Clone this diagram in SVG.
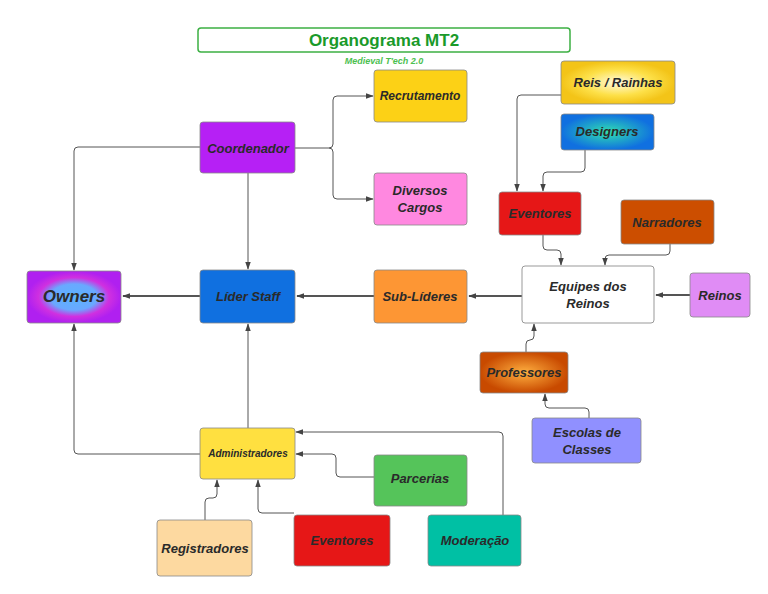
<svg xmlns="http://www.w3.org/2000/svg" width="768" height="594" viewBox="0 0 768 594">
<defs>
<style>
.n{stroke:#888;stroke-width:0.8}
.t{font-family:"Liberation Sans",Arial,sans-serif;font-weight:bold;font-style:italic;font-size:13px;fill:#2a2a2a;text-anchor:middle;dominant-baseline:central}
.c{fill:none;stroke:#555;stroke-width:1}
.m{fill:none;stroke:#555;stroke-width:2}
</style>
<marker id="a" viewBox="0 0 10 10" refX="9" refY="5" markerUnits="userSpaceOnUse" markerWidth="8" markerHeight="8" orient="auto"><path d="M0,1.5 L10,5 L0,8.5 z" fill="#444"/></marker>
<radialGradient id="gOw"><stop offset="0" stop-color="#5ab4ff"/><stop offset="0.5" stop-color="#6aa8ff"/><stop offset="0.75" stop-color="#d030e0"/><stop offset="1" stop-color="#b020f0"/></radialGradient>
<radialGradient id="gRe"><stop offset="0" stop-color="#fffbe0"/><stop offset="0.6" stop-color="#fde048"/><stop offset="1" stop-color="#f3c418"/></radialGradient>
<radialGradient id="gDe"><stop offset="0" stop-color="#30e0b0"/><stop offset="1" stop-color="#1070e0"/></radialGradient>
<radialGradient id="gPr"><stop offset="0" stop-color="#ffb040"/><stop offset="1" stop-color="#c84a00"/></radialGradient>
</defs>
<rect width="768" height="594" fill="#fff"/>
<g id="connectors">
<path class="c" d="M200,147 H78 Q74,147 74,151 V270" marker-end="url(#a)"/>
<path class="c" d="M248,173 V269" marker-end="url(#a)"/>
<path class="c" d="M295,148 H329 Q333,148 333,144 V100 Q333,96 337,96 H373" marker-end="url(#a)"/>
<path class="c" d="M329,148 Q333,148 333,152 V195 Q333,199 337,199 H373" marker-end="url(#a)"/>
<path class="c" d="M561,95 H521 Q517,95 517,99 V191" marker-end="url(#a)"/>
<path class="c" d="M585,150 V168 Q585,172 581,172 H547 Q543,172 543,176 V191" marker-end="url(#a)"/>
<path class="c" d="M543,235 V246 Q543,250 547,250 H557 Q561,250 561,254 V265" marker-end="url(#a)"/>
<path class="c" d="M670,244 V251 Q670,255 666,255 H609 Q605,255 605,259 V265" marker-end="url(#a)"/>
<path class="m" d="M690,295 H656" marker-end="url(#a)"/>
<path class="m" d="M522,296 H469" marker-end="url(#a)"/>
<path class="m" d="M374,296 H297" marker-end="url(#a)"/>
<path class="m" d="M200,296 H123" marker-end="url(#a)"/>
<path class="c" d="M526,352 V344 Q526,340 530,340 Q534,340 534,336 V324" marker-end="url(#a)"/>
<path class="c" d="M589,418 V412 Q589,408 585,408 H549 Q545,408 545,404 V394" marker-end="url(#a)"/>
<path class="c" d="M248,428 V324" marker-end="url(#a)"/>
<path class="c" d="M200,454 H78 Q74,454 74,450 V324" marker-end="url(#a)"/>
<path class="c" d="M503,515 V436 Q503,432 499,432 H296" marker-end="url(#a)"/>
<path class="c" d="M374,477 H340 Q336,477 336,473 V458 Q336,454 332,454 H296" marker-end="url(#a)"/>
<path class="c" d="M294,513 H262 Q258,513 258,509 V480" marker-end="url(#a)"/>
<path class="c" d="M205,520 V502 Q205,498 209,498 H213 Q217,498 217,494 V480" marker-end="url(#a)"/>
</g>
<g id="title">
<rect x="198" y="28" width="372" height="24" rx="3" fill="#fff" stroke="#3cb043" stroke-width="1.5"/>
<text x="384" y="40" style="font-family:'Liberation Sans',Arial,sans-serif;font-weight:bold;font-size:17px;fill:#1a9a2a;text-anchor:middle;dominant-baseline:central">Organograma MT2</text>
<text x="384" y="61" style="font-family:'Liberation Sans',Arial,sans-serif;font-weight:bold;font-style:italic;font-size:9px;fill:#4cc050;text-anchor:middle;dominant-baseline:central">Medieval T'ech 2.0</text>
</g>
<g id="recrutamento"><rect class="n" x="374" y="70" width="93" height="52" rx="3" fill="#fcd116"/><text class="t" x="420" y="96" style="font-size:12px">Recrutamento</text></g>
<g id="coordenador"><rect class="n" x="200" y="122" width="95" height="51" rx="3" fill="#b620f5"/><text class="t" x="248" y="148">Coordenador</text></g>
<g id="diversos"><rect class="n" x="374" y="173" width="93" height="52" rx="3" fill="#ff88e0"/><text class="t" x="420" y="190">Diversos</text><text class="t" x="420" y="207">Cargos</text></g>
<g id="reis"><rect class="n" x="561" y="61" width="114" height="43" rx="3" fill="url(#gRe)"/><text class="t" x="618" y="82">Reis / Rainhas</text></g>
<g id="designers"><rect class="n" x="561" y="114" width="93" height="36" rx="3" fill="url(#gDe)"/><text class="t" x="607" y="131">Designers</text></g>
<g id="eventores1"><rect class="n" x="499" y="192" width="82" height="43" rx="3" fill="#e61717"/><text class="t" x="540" y="213">Eventores</text></g>
<g id="narradores"><rect class="n" x="621" y="200" width="93" height="44" rx="3" fill="#cc4e00"/><text class="t" x="667" y="222">Narradores</text></g>
<g id="owners"><rect class="n" x="27" y="271" width="94" height="52" rx="3" fill="url(#gOw)"/><text class="t" x="74" y="296" style="font-size:17px">Owners</text></g>
<g id="lider"><rect class="n" x="200" y="270" width="95" height="53" rx="3" fill="#1070e0"/><text class="t" x="248" y="296">Líder Staff</text></g>
<g id="sublideres"><rect class="n" x="374" y="270" width="93" height="53" rx="3" fill="#fd9634"/><text class="t" x="420" y="296">Sub-Líderes</text></g>
<g id="equipes"><rect x="522" y="266" width="132" height="57" rx="3" fill="#fff" stroke="#999"/><text class="t" x="588" y="286">Equipes dos</text><text class="t" x="588" y="303">Reinos</text></g>
<g id="reinos"><rect class="n" x="690" y="273" width="60" height="44" rx="3" fill="#e08cf5"/><text class="t" x="720" y="295">Reinos</text></g>
<g id="professores"><rect class="n" x="480" y="352" width="88" height="41" rx="3" fill="url(#gPr)"/><text class="t" x="524" y="372">Professores</text></g>
<g id="escolas"><rect class="n" x="532" y="418" width="109" height="45" rx="3" fill="#9090ff"/><text class="t" x="587" y="432">Escolas de</text><text class="t" x="587" y="449">Classes</text></g>
<g id="administradores"><rect class="n" x="200" y="428" width="95" height="51" rx="3" fill="#ffe040"/><text class="t" x="248" y="453" style="font-size:10px">Administradores</text></g>
<g id="parcerias"><rect class="n" x="374" y="455" width="93" height="51" rx="3" fill="#55c45a"/><text class="t" x="420" y="478">Parcerias</text></g>
<g id="registradores"><rect class="n" x="157" y="520" width="95" height="56" rx="3" fill="#fdd9a0"/><text class="t" x="205" y="548">Registradores</text></g>
<g id="eventores2"><rect class="n" x="294" y="515" width="96" height="51" rx="3" fill="#e61717"/><text class="t" x="342" y="540">Eventores</text></g>
<g id="moderacao"><rect class="n" x="428" y="515" width="93" height="51" rx="3" fill="#00c0a4"/><text class="t" x="475" y="540">Moderação</text></g>
</svg>
